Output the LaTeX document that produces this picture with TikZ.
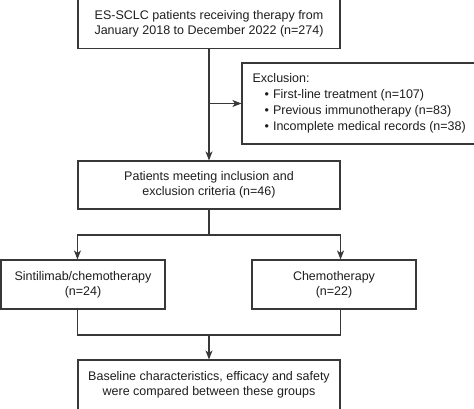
\documentclass[tikz,border=0pt]{standalone}
\usepackage{fontspec}
\setmainfont{Liberation Sans}
\usetikzlibrary{arrows.meta}
\definecolor{linec}{HTML}{383838}
\definecolor{textc}{HTML}{1E1E1E}
\begin{document}
\begin{tikzpicture}[x=1pt,y=-1pt,
  box/.style={draw=linec, line width=1.1pt, fill=white, align=center, inner sep=0pt,
    font=\fontsize{12.5}{14.8}\selectfont, text=textc},
  lbl/.style={align=left, inner sep=0pt, font=\fontsize{12.5}{16}\selectfont, text=textc},
  conn/.style={draw=linec, line width=1.1pt},
  arr/.style={conn, -{Stealth[length=9pt,width=7pt,inset=2.5pt]}}]
\useasboundingbox (0,0) rectangle (474,409);
\clip (0,0) rectangle (474,409);
\fill[white] (0,0) rectangle (474,409);
\node[box, minimum width=262pt, minimum height=50pt] (b1) at (209,23.5)
  {ES-SCLC patients receiving therapy from\\January 2018 to December 2022 (n=274)};
\node[box, minimum width=236pt, minimum height=81pt] (ex) at (360,103.5) {};
\node[lbl, anchor=west] (exText) at ([xshift=11pt,yshift=0.5pt]ex.west)
  {Exclusion:\\
   \hspace*{12pt}\textbullet\hspace{4pt}First-line treatment (n=107)\\
   \hspace*{12pt}\textbullet\hspace{4pt}Previous immunotherapy (n=83)\\
   \hspace*{12pt}\textbullet\hspace{4pt}Incomplete medical records (n=38)};
\node[box, minimum width=262pt, minimum height=48pt] (b2) at (209,185)
  {Patients meeting inclusion and\\exclusion criteria (n=46)};
\node[box, minimum width=164pt, minimum height=49pt] (b3) at (83,284.5)
  {Sintilimab/chemotherapy\\(n=24)};
\node[box, minimum width=164pt, minimum height=49pt] (b4) at (334,284.5)
  {Chemotherapy\\(n=22)};
\node[box, minimum width=262pt, minimum height=50pt] (b5) at (209,385)
  {Baseline characteristics, efficacy and safety\\were compared between these groups};
\draw[arr] (b1.south) -- (b2.north);
\draw[arr] (b1.south |- ex.west) -- (ex.west);
\coordinate (s1) at (209,235);
\draw[conn] (b2.south) -- (s1);
\draw[arr] (s1) -| (b3.north -| b2.west);
\draw[arr] (s1) -| (b4.north -| b2.east);
\coordinate (m) at (209,335);
\draw[conn] (b3.south -| b2.west) |- (m) -| (b4.south -| b2.east);
\draw[arr] (m) -- (b5.north);
\end{tikzpicture}
\end{document}
